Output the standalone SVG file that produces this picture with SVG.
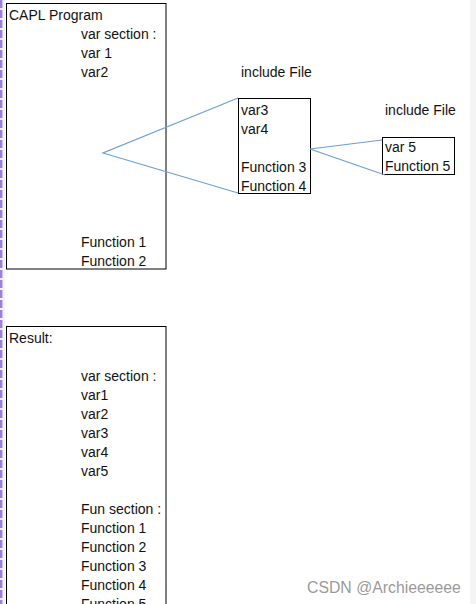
<svg xmlns="http://www.w3.org/2000/svg" width="476" height="604" viewBox="0 0 476 604">
<style>
text{font-family:"Liberation Sans",Arial,sans-serif;font-size:14px;fill:#111}
.box{fill:none;stroke:#000;stroke-width:1}
.conn{fill:none;stroke:#6a9fd8;stroke-width:1.2}
.wm{fill:#9a9a9a;font-size:15.8px}
</style>
<rect x="0" y="0" width="476" height="604" fill="#fff"/>
<rect x="0" y="0" width="5" height="604" fill="#f2f2f2"/>
<line x1="1.2" y1="0" x2="1.2" y2="604" stroke="#9a7fdc" stroke-width="2.4" stroke-dasharray="8,2"/>
<rect x="470" y="0" width="6" height="604" fill="#f4f4f4"/>
<g id="capl-program">
<rect class="box" x="6.5" y="3.5" width="159.5" height="265.5"/>
<text x="9" y="20">CAPL Program</text>
<text x="81" y="39">var section :</text>
<text x="81" y="58">var 1</text>
<text x="81" y="77">var2</text>
<text x="81" y="247">Function 1</text>
<text x="81" y="266">Function 2</text>
</g>
<g id="include-file-1">
<text x="241" y="77">include File</text>
<rect class="box" x="238.5" y="98.5" width="72" height="95"/>
<text x="241" y="115">var3</text>
<text x="241" y="134">var4</text>
<text x="241" y="172">Function 3</text>
<text x="241" y="191">Function 4</text>
</g>
<g id="include-file-2">
<text x="385" y="115">include File</text>
<rect class="box" x="382.5" y="137.5" width="72" height="37"/>
<text x="385" y="152">var 5</text>
<text x="385" y="171">Function 5</text>
</g>
<g id="connectors">
<polyline class="conn" points="238,98 103,153 238,193"/>
<polyline class="conn" points="382,140 310,149 385,175"/>
</g>
<g id="result">
<rect class="box" x="6.5" y="326.5" width="159.5" height="290"/>
<text x="9" y="343">Result:</text>
<text x="81" y="381">var section :</text>
<text x="81" y="400">var1</text>
<text x="81" y="419">var2</text>
<text x="81" y="438">var3</text>
<text x="81" y="457">var4</text>
<text x="81" y="476">var5</text>
<text x="81" y="514">Fun section :</text>
<text x="81" y="533">Function 1</text>
<text x="81" y="552">Function 2</text>
<text x="81" y="571">Function 3</text>
<text x="81" y="590">Function 4</text>
<text x="81" y="609">Function 5</text>
</g>
<text class="wm" x="307" y="593">CSDN @Archieeeeee</text>
</svg>
